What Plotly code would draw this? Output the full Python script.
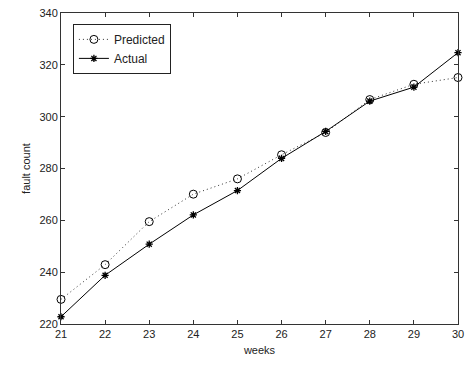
import plotly.graph_objects as go

weeks = [21, 22, 23, 24, 25, 26, 27, 28, 29, 30]
predicted = [229.5, 242.9, 259.5, 270.1, 276.0, 285.3, 293.9, 306.6, 312.5, 315.1]
actual = [222.8, 238.8, 250.8, 262.1, 271.5, 283.9, 294.3, 306.0, 311.4, 324.7]
x_ticks = list(range(21, 31))
y_ticks = [220, 240, 260, 280, 300, 320, 340]

FONT = "Liberation Sans, Arial, sans-serif"

fig = go.Figure()
fig.add_trace(go.Scatter(
    x=weeks, y=predicted, name="Predicted", mode="lines+markers",
    line=dict(color="#333", width=1, dash="1px,3px"),
    marker=dict(symbol="circle-open", size=8, color="black", line=dict(width=1, color="black")),
    cliponaxis=False,
))
fig.add_trace(go.Scatter(
    x=weeks, y=actual, name="Actual", mode="lines+markers",
    line=dict(color="black", width=1),
    marker=dict(symbol="asterisk-open", size=6, color="black", line=dict(width=1.3, color="black")),
    cliponaxis=False,
))

axis_common = dict(
    showgrid=False, zeroline=False, showline=True, linecolor="#333", linewidth=1,
    mirror="ticks", ticks="inside", ticklen=4, tickcolor="#333", automargin=False,
    tickfont=dict(family=FONT, size=11, color="#222"),
)
fig.update_xaxes(range=[21, 30], tickvals=x_ticks, title=dict(text="weeks", standoff=7,
                 font=dict(family=FONT, size=11, color="#222")),
                 **axis_common)
fig.update_yaxes(range=[220, 340], tickvals=y_ticks, title=dict(text="fault count", standoff=6,
                 font=dict(family=FONT, size=11, color="#222")),
                 **axis_common)

fig.update_layout(
    width=474, height=366,
    margin=dict(l=61, r=16, t=13, b=42),
    paper_bgcolor="white", plot_bgcolor="white",
    font=dict(family=FONT, size=11, color="#222"),
    legend=dict(x=0.03, y=0.965, xanchor="left", yanchor="top",
                bordercolor="#222", borderwidth=1, bgcolor="white",
                font=dict(size=12), tracegroupgap=0),
    showlegend=True,
)
fig.write_html("out.html", config={"displayModeBar": False},
               post_script="document.body.style.margin='0';")
